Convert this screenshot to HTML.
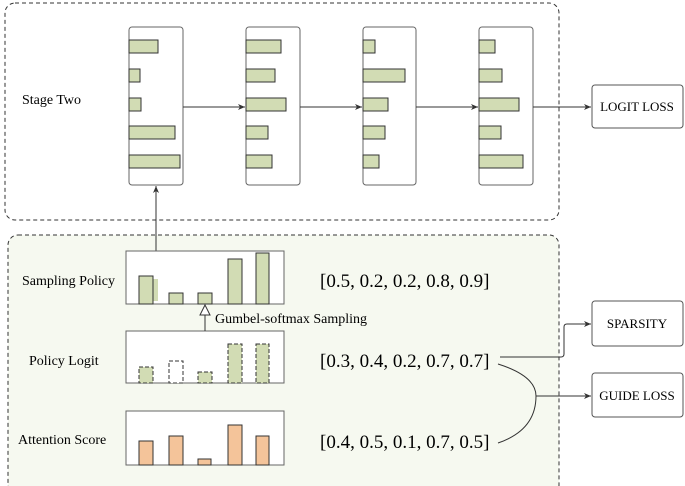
<!DOCTYPE html>
<html><head><style>
body{margin:0;background:#fff;}
svg{display:block;font-family:"Liberation Serif",serif;}
</style></head><body>
<svg width="685" height="486" viewBox="0 0 685 486" xmlns="http://www.w3.org/2000/svg">
<defs>
<marker id="a" markerWidth="8" markerHeight="6" refX="7" refY="3" orient="auto"><path d="M0,0 L7,3 L0,6 L2,3 Z" fill="#333"/></marker>
</defs>
<rect x="5" y="3" width="554" height="217" rx="10" fill="#fff" stroke="#333" stroke-dasharray="4,3"/>
<rect x="8" y="235" width="551" height="260" rx="10" fill="#f6f9f0" stroke="#333" stroke-dasharray="4,3"/>
<text x="22" y="104" font-size="14">Stage Two</text>
<g fill="#fff" stroke="#666">
<rect x="129" y="27" width="54" height="158" rx="3"/>
<rect x="246" y="27" width="54" height="158" rx="3"/>
<rect x="363" y="27" width="53" height="158" rx="3"/>
<rect x="479" y="27" width="54" height="158" rx="3"/>
</g>
<g fill="#d2dcb4" stroke="#333">
<rect x="129" y="40" width="29" height="13"/><rect x="129" y="69" width="11" height="13"/><rect x="129" y="98" width="12" height="13"/><rect x="129" y="126" width="46" height="13"/><rect x="129" y="155" width="51" height="13"/>
<rect x="246" y="40" width="35" height="13"/><rect x="246" y="69" width="29" height="13"/><rect x="246" y="98" width="40" height="13"/><rect x="246" y="126" width="22" height="13"/><rect x="246" y="155" width="26" height="13"/>
<rect x="363" y="40" width="12" height="13"/><rect x="363" y="69" width="42" height="13"/><rect x="363" y="98" width="25" height="13"/><rect x="363" y="126" width="22" height="13"/><rect x="363" y="155" width="16" height="13"/>
<rect x="479" y="40" width="16" height="13"/><rect x="479" y="69" width="23" height="13"/><rect x="479" y="98" width="40" height="13"/><rect x="479" y="126" width="22" height="13"/><rect x="479" y="155" width="44" height="13"/>
</g>
<g stroke="#333" fill="none" marker-end="url(#a)">
<line x1="183" y1="107" x2="245" y2="107"/>
<line x1="300" y1="107" x2="362" y2="107"/>
<line x1="416" y1="107" x2="478" y2="107"/>
<line x1="533" y1="107" x2="591" y2="107"/>
<line x1="156" y1="251" x2="156" y2="186"/>
</g>
<g fill="#fff" stroke="#555">
<rect x="592" y="85" width="91" height="43" rx="3"/>
<rect x="592" y="301" width="91" height="45" rx="3"/>
<rect x="592" y="373" width="91" height="44" rx="3"/>
</g>
<g font-size="13" text-anchor="middle">
<text x="637" y="111">LOGIT LOSS</text>
<text x="637" y="328">SPARSITY</text>
<text x="637" y="400">GUIDE LOSS</text>
</g>
<g fill="#fff" stroke="#666">
<rect x="126" y="251" width="158" height="53"/>
<rect x="126" y="331" width="158" height="52"/>
<rect x="126" y="411" width="158" height="54"/>
</g>
<rect x="153" y="279" width="5" height="22" fill="#d2dcb4"/>
<g fill="#d2dcb4" stroke="#333">
<rect x="139" y="276" width="14" height="28"/><rect x="169" y="293" width="14" height="11"/><rect x="198" y="293" width="14" height="11"/><rect x="228" y="259" width="14" height="45"/><rect x="256" y="253" width="13" height="51"/>
</g>
<g stroke="#333" stroke-dasharray="4,2">
<rect x="139" y="367" width="14" height="16" fill="#d2dcb4"/><rect x="169" y="361" width="14" height="22" fill="#fff"/><rect x="198" y="372" width="14" height="11" fill="#d2dcb4"/><rect x="228" y="344" width="14" height="39" fill="#d2dcb4"/><rect x="256" y="344" width="13" height="39" fill="#d2dcb4"/>
</g>
<g fill="#f4c49a" stroke="#333">
<rect x="139" y="441" width="14" height="24"/><rect x="169" y="436" width="14" height="29"/><rect x="198" y="459" width="13" height="6"/><rect x="228" y="425" width="14" height="40"/><rect x="256" y="436" width="13" height="29"/>
</g>
<line x1="205" y1="331" x2="205" y2="314" stroke="#333"/>
<path d="M205,305 L200,315 L210,315 Z" fill="#fff" stroke="#333"/>
<text x="215" y="323" font-size="14">Gumbel-softmax Sampling</text>
<g font-size="14">
<text x="22" y="285">Sampling Policy</text>
<text x="29" y="365">Policy Logit</text>
<text x="18" y="444">Attention Score</text>
</g>
<g font-size="19">
<text x="320" y="287">[0.5, 0.2, 0.2, 0.8, 0.9]</text>
<text x="320" y="367">[0.3, 0.4, 0.2, 0.7, 0.7]</text>
<text x="320" y="448">[0.4, 0.5, 0.1, 0.7, 0.5]</text>
</g>
<g stroke="#333" fill="none">
<path d="M500,357 L561,357 Q564,357 564,354 L564,327 Q564,324 567,324 L591,324" marker-end="url(#a)"/>
<path d="M498,364 Q536,376 536,396 Q536,430 498,443"/>
<line x1="536" y1="396" x2="591" y2="396" marker-end="url(#a)"/>
</g>
</svg>
</body></html>
